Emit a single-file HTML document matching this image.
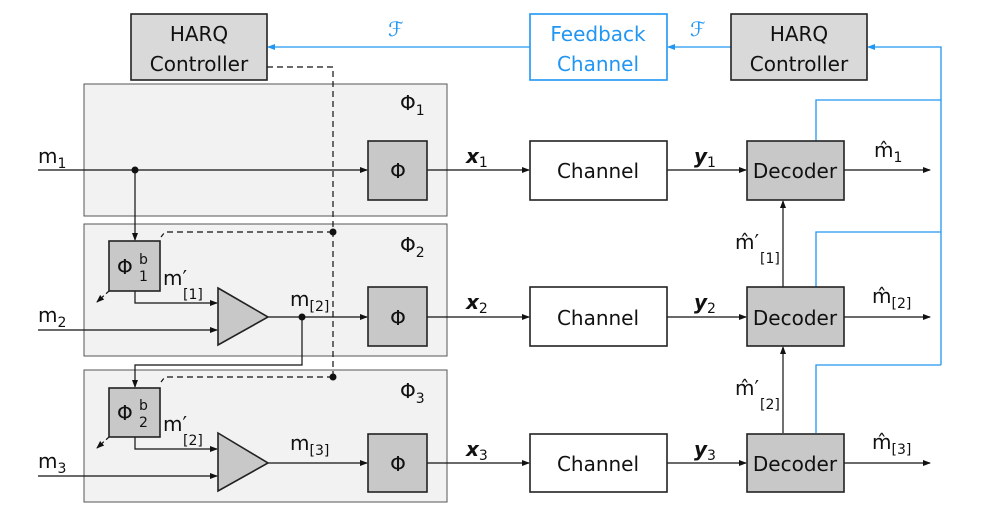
<!DOCTYPE html><html><head><style>body{margin:0;background:#fff}svg{display:block}text{font-family:"DejaVu Sans","Liberation Sans",sans-serif;font-size:20px;fill:#111}.b{fill:#2196f3}.s{font-size:14px}</style></head><body>
<svg width="981" height="519" viewBox="0 0 981 519">
<defs><marker id="a" markerWidth="8" markerHeight="8" refX="7" refY="4" orient="auto" markerUnits="userSpaceOnUse"><path d="M0,1 L8,4 L0,7z" fill="#111"/></marker>
<marker id="ab" markerWidth="8" markerHeight="8" refX="7" refY="4" orient="auto" markerUnits="userSpaceOnUse"><path d="M0,1 L8,4 L0,7z" fill="#2196f3"/></marker></defs>
<g stroke="#555" stroke-width="1" fill="#f2f2f2"><rect x="84" y="84" width="363" height="132"/><rect x="84" y="224" width="363" height="132"/><rect x="84" y="370" width="363" height="132"/></g>
<g stroke="#2196f3" stroke-width="1.3" fill="none">
<line x1="530" y1="47" x2="268" y2="47" marker-end="url(#ab)"/><line x1="731" y1="47" x2="668" y2="47" marker-end="url(#ab)"/>
<polyline points="941,365 941,47 868,47" marker-end="url(#ab)"/>
<polyline points="941,100 816,100 816,141"/><polyline points="941,232 816,232 816,287"/><polyline points="941,365 816,365 816,433"/></g>
<g stroke="#111" stroke-width="1.2" fill="none" stroke-dasharray="6,4">
<polyline points="267,67 333,67 333,378"/><polyline points="333,232 165,232 161,237"/><polyline points="333,377 165,377 161,382"/></g>
<g stroke="#111" stroke-width="1.2" fill="none">
<line x1="109" y1="291" x2="97" y2="302" stroke-dasharray="4,3" marker-end="url(#a)"/><line x1="109" y1="437" x2="97" y2="448" stroke-dasharray="4,3" marker-end="url(#a)"/>
<line x1="38" y1="170" x2="367" y2="170" marker-end="url(#a)"/><line x1="135" y1="170" x2="135" y2="240" marker-end="url(#a)"/>
<polyline points="135,291 135,303 217,303" marker-end="url(#a)"/><line x1="38" y1="330" x2="217" y2="330" marker-end="url(#a)"/>
<line x1="268" y1="317" x2="367" y2="317" marker-end="url(#a)"/><polyline points="302,317 302,365 135,365 135,387" marker-end="url(#a)"/>
<polyline points="135,437 135,449 217,449" marker-end="url(#a)"/><line x1="38" y1="476" x2="217" y2="476" marker-end="url(#a)"/>
<line x1="268" y1="463" x2="367" y2="463" marker-end="url(#a)"/>
<line x1="427" y1="170" x2="529" y2="170" marker-end="url(#a)"/><line x1="427" y1="317" x2="529" y2="317" marker-end="url(#a)"/><line x1="427" y1="463" x2="529" y2="463" marker-end="url(#a)"/>
<line x1="667" y1="170" x2="746" y2="170" marker-end="url(#a)"/><line x1="667" y1="317" x2="746" y2="317" marker-end="url(#a)"/><line x1="667" y1="463" x2="746" y2="463" marker-end="url(#a)"/>
<line x1="844" y1="170" x2="930" y2="170" marker-end="url(#a)"/><line x1="844" y1="317" x2="930" y2="317" marker-end="url(#a)"/><line x1="844" y1="463" x2="930" y2="463" marker-end="url(#a)"/>
<line x1="783" y1="287" x2="783" y2="201" marker-end="url(#a)"/><line x1="783" y1="433" x2="783" y2="347" marker-end="url(#a)"/></g>
<g fill="#111"><circle cx="135" cy="170" r="3.5"/><circle cx="302" cy="317" r="3.5"/><circle cx="333" cy="232" r="3.5"/><circle cx="333" cy="377" r="3.5"/></g>
<g stroke="#222" stroke-width="1.6" fill="#c8c8c8">
<rect x="131" y="14" width="136" height="66" fill="#d9d9d9"/><rect x="731" y="14" width="136" height="66" fill="#d9d9d9"/>
<rect x="368" y="141" width="59" height="59"/><rect x="368" y="287" width="59" height="59"/><rect x="368" y="434" width="59" height="58"/>
<rect x="109" y="241" width="51" height="50"/><rect x="109" y="388" width="51" height="49"/>
<polygon points="218,288 268,317 218,345"/><polygon points="218,433 268,463 218,491"/>
<rect x="530" y="141" width="137" height="59" fill="#fff"/><rect x="530" y="287" width="137" height="59" fill="#fff"/><rect x="530" y="434" width="137" height="58" fill="#fff"/>
<rect x="747" y="141" width="97" height="59"/><rect x="747" y="287" width="97" height="59"/><rect x="747" y="434" width="97" height="58"/></g>
<rect x="530" y="14" width="137" height="66" fill="#fff" stroke="#2196f3" stroke-width="1.6"/>
<g text-anchor="middle">
<text x="199" y="41">HARQ</text><text x="199" y="71">Controller</text><text x="799" y="41">HARQ</text><text x="799" y="71">Controller</text>
<text class="b" x="598" y="41">Feedback</text><text class="b" x="598" y="71">Channel</text>
<text x="398" y="178">Φ</text><text x="398" y="325">Φ</text><text x="398" y="471">Φ</text>
<text x="598" y="178">Channel</text><text x="598" y="325">Channel</text><text x="598" y="471">Channel</text>
<text x="795" y="178">Decoder</text><text x="795" y="325">Decoder</text><text x="795" y="471">Decoder</text></g>
<text class="b" x="388" y="36" font-style="italic" font-family="Liberation Serif" font-size="26">ℱ</text><text class="b" x="690" y="36" font-style="italic" font-family="Liberation Serif" font-size="26">ℱ</text>
<text x="400" y="110">Φ<tspan class="s" dy="5">1</tspan></text><text x="400" y="252">Φ<tspan class="s" dy="5">2</tspan></text><text x="400" y="398">Φ<tspan class="s" dy="5">3</tspan></text>
<text x="117" y="274">Φ</text><text class="s" x="139" y="264">b</text><text class="s" x="139" y="281">1</text>
<text x="117" y="420">Φ</text><text class="s" x="139" y="410">b</text><text class="s" x="139" y="427">2</text>
<text x="38" y="163">m<tspan class="s" dy="5">1</tspan></text><text x="38" y="322">m<tspan class="s" dy="5">2</tspan></text><text x="38" y="468">m<tspan class="s" dy="5">3</tspan></text>
<text x="163" y="285">m′</text><text class="s" x="183" y="299">[1]</text><text x="163" y="431">m′</text><text class="s" x="183" y="445">[2]</text>
<text x="290" y="306">m<tspan class="s" dy="5">[2]</tspan></text><text x="290" y="450">m<tspan class="s" dy="5">[3]</tspan></text>
<text x="466" y="163" font-weight="bold" font-style="italic">x<tspan class="s" font-weight="normal" font-style="normal" dy="4">1</tspan></text>
<text x="466" y="309" font-weight="bold" font-style="italic">x<tspan class="s" font-weight="normal" font-style="normal" dy="4">2</tspan></text>
<text x="466" y="456" font-weight="bold" font-style="italic">x<tspan class="s" font-weight="normal" font-style="normal" dy="4">3</tspan></text>
<text x="694" y="163" font-weight="bold" font-style="italic">y<tspan class="s" font-weight="normal" font-style="normal" dy="4">1</tspan></text>
<text x="694" y="309" font-weight="bold" font-style="italic">y<tspan class="s" font-weight="normal" font-style="normal" dy="4">2</tspan></text>
<text x="694" y="456" font-weight="bold" font-style="italic">y<tspan class="s" font-weight="normal" font-style="normal" dy="4">3</tspan></text>
<text x="874" y="157">m̂<tspan class="s" dy="5">1</tspan></text><text x="872" y="303">m̂<tspan class="s" dy="5">[2]</tspan></text><text x="872" y="449">m̂<tspan class="s" dy="5">[3]</tspan></text>
<text x="735" y="249">m̂′</text><text class="s" x="760" y="263">[1]</text><text x="735" y="395">m̂′</text><text class="s" x="760" y="409">[2]</text>
</svg></body></html>
